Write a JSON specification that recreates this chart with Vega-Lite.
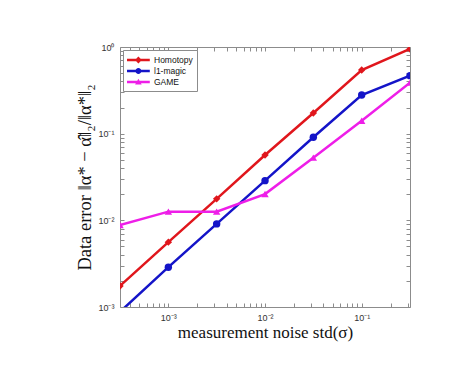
{
  "$schema": "https://vega.github.io/schema/vega-lite/v6.json",
  "width": 290,
  "height": 260,
  "autosize": "none",
  "padding": {"left": 120, "top": 47, "right": 64, "bottom": 59},
  "background": "white",
  "config": {
    "view": {"stroke": "#8c8c8c", "strokeWidth": 1},
    "axis": {
      "domain": false,
      "grid": false,
      "tickColor": "#8c8c8c",
      "tickSize": -4,
      "labelFont": "Liberation Sans",
      "labelFontSize": 9,
      "labelColor": "#333333",
      "labelOverlap": false,
      "titleFont": "Liberation Serif",
      "titleFontSize": 17,
      "titleFontWeight": "normal",
      "titleColor": "#111111"
    }
  },
  "data": {
    "values": [
      {"series": "Homotopy", "sigma": 0.000316, "err": 0.00175},
      {"series": "Homotopy", "sigma": 0.001, "err": 0.0056},
      {"series": "Homotopy", "sigma": 0.00316, "err": 0.0177},
      {"series": "Homotopy", "sigma": 0.01, "err": 0.0568},
      {"series": "Homotopy", "sigma": 0.0316, "err": 0.173},
      {"series": "Homotopy", "sigma": 0.1, "err": 0.543},
      {"series": "Homotopy", "sigma": 0.316, "err": 0.95},
      {"series": "l1-magic", "sigma": 0.000316, "err": 0.00088},
      {"series": "l1-magic", "sigma": 0.001, "err": 0.00288},
      {"series": "l1-magic", "sigma": 0.00316, "err": 0.0091},
      {"series": "l1-magic", "sigma": 0.01, "err": 0.0287},
      {"series": "l1-magic", "sigma": 0.0316, "err": 0.0908},
      {"series": "l1-magic", "sigma": 0.1, "err": 0.279},
      {"series": "l1-magic", "sigma": 0.316, "err": 0.467},
      {"series": "GAME", "sigma": 0.000316, "err": 0.00885},
      {"series": "GAME", "sigma": 0.001, "err": 0.0126},
      {"series": "GAME", "sigma": 0.00316, "err": 0.0126},
      {"series": "GAME", "sigma": 0.01, "err": 0.0201},
      {"series": "GAME", "sigma": 0.0316, "err": 0.0529},
      {"series": "GAME", "sigma": 0.1, "err": 0.141},
      {"series": "GAME", "sigma": 0.316, "err": 0.388}
    ]
  },
  "layer": [
    {
      "mark": {"type": "line", "strokeWidth": 2.5, "clip": true},
      "encoding": {
        "x": {
          "field": "sigma", "type": "quantitative",
          "scale": {"type": "log", "domain": [0.000316, 0.316], "nice": false},
          "axis": {
            "orient": "bottom",
            "title": "measurement noise std(σ)",
            "titlePadding": 2,
            "labelPadding": 10,
            "values": [0.0004,0.0005,0.0006,0.0007,0.0008,0.0009,0.001,0.002,0.003,0.004,0.005,0.006,0.007,0.008,0.009,0.01,0.02,0.03,0.04,0.05,0.06,0.07,0.08,0.09,0.1,0.2,0.3],
            "labelExpr": "abs(log(datum.value)/LN10 - round(log(datum.value)/LN10)) > 0.001 ? '' : round(log(datum.value)/LN10) == 0 ? '10⁰' : round(log(datum.value)/LN10) == -1 ? '10⁻¹' : round(log(datum.value)/LN10) == -2 ? '10⁻²' : '10⁻³'"
          }
        },
        "y": {
          "field": "err", "type": "quantitative",
          "scale": {"type": "log", "domain": [0.001, 1], "nice": false},
          "axis": {
            "orient": "left",
            "title": "Data error ‖α* − α̂‖₂/‖α*‖₂",
            "titleFontSize": 18.5,
            "titlePadding": 3,
            "labelPadding": 10,
            "values": [0.001,0.002,0.003,0.004,0.005,0.006,0.007,0.008,0.009,0.01,0.02,0.03,0.04,0.05,0.06,0.07,0.08,0.09,0.1,0.2,0.3,0.4,0.5,0.6,0.7,0.8,0.9,1],
            "labelExpr": "abs(log(datum.value)/LN10 - round(log(datum.value)/LN10)) > 0.001 ? '' : round(log(datum.value)/LN10) == 0 ? '10⁰' : round(log(datum.value)/LN10) == -1 ? '10⁻¹' : round(log(datum.value)/LN10) == -2 ? '10⁻²' : '10⁻³'"
          }
        },
        "color": {
          "field": "series", "type": "nominal",
          "scale": {"domain": ["Homotopy", "l1-magic", "GAME"], "range": ["#e0161c", "#1414c8", "#ee1ee8"]},
          "legend": {
            "title": null,
            "orient": "top-left",
            "offset": 3,
            "padding": 4,
            "strokeColor": "#8c8c8c",
            "fillColor": "white",
            "labelFont": "Liberation Sans",
            "labelFontSize": 8.5,
            "labelColor": "#111111",
            "symbolSize": 144,
            "symbolStrokeWidth": 0,
            "symbolOpacity": 1,
            "labelOffset": 15,
            "rowPadding": 0,
            "symbolType": {"expr": "datum.value === 'Homotopy' ? 'M-1,-0.21H2.8V0.21H-1ZM0.9,-0.58L1.48,0L0.9,0.58L0.32,0Z' : datum.value === 'GAME' ? 'M-1,-0.21H2.8V0.21H-1ZM0.9,-0.55L1.45,0.4L0.35,0.4Z' : 'M-1,-0.21H2.8V0.21H-1ZM0.4,0A0.5,0.5,0,1,1,1.4,0A0.5,0.5,0,1,1,0.4,0Z'"}
          }
        }
      }
    },
    {
      "transform": [{"filter": "datum.series === 'Homotopy'"}],
      "mark": {"type": "point", "filled": true, "opacity": 1, "size": 55, "clip": true, "shape": "diamond"},
      "encoding": {
        "x": {
          "field": "sigma", "type": "quantitative",
          "axis": {
            "orient": "top", "title": null, "labels": false,
            "values": [0.0004,0.0005,0.0006,0.0007,0.0008,0.0009,0.001,0.002,0.003,0.004,0.005,0.006,0.007,0.008,0.009,0.01,0.02,0.03,0.04,0.05,0.06,0.07,0.08,0.09,0.1,0.2,0.3]
          }
        },
        "y": {
          "field": "err", "type": "quantitative",
          "axis": {
            "orient": "right", "title": null, "labels": false,
            "values": [0.001,0.002,0.003,0.004,0.005,0.006,0.007,0.008,0.009,0.01,0.02,0.03,0.04,0.05,0.06,0.07,0.08,0.09,0.1,0.2,0.3,0.4,0.5,0.6,0.7,0.8,0.9,1]
          }
        },
        "color": {"field": "series", "type": "nominal"}
      }
    },
    {
      "transform": [{"filter": "datum.series === 'l1-magic'"}],
      "mark": {"type": "point", "filled": true, "opacity": 1, "size": 55, "clip": true, "shape": "circle"},
      "encoding": {
        "x": {"field": "sigma", "type": "quantitative", "axis": null},
        "y": {"field": "err", "type": "quantitative", "axis": null},
        "color": {"field": "series", "type": "nominal"}
      }
    },
    {
      "transform": [{"filter": "datum.series === 'GAME'"}],
      "mark": {"type": "point", "filled": true, "opacity": 1, "size": 55, "clip": true, "shape": "triangle-up"},
      "encoding": {
        "x": {"field": "sigma", "type": "quantitative", "axis": null},
        "y": {"field": "err", "type": "quantitative", "axis": null},
        "color": {"field": "series", "type": "nominal"}
      }
    }
  ],
  "resolve": {"axis": {"x": "independent", "y": "independent"}}
}
